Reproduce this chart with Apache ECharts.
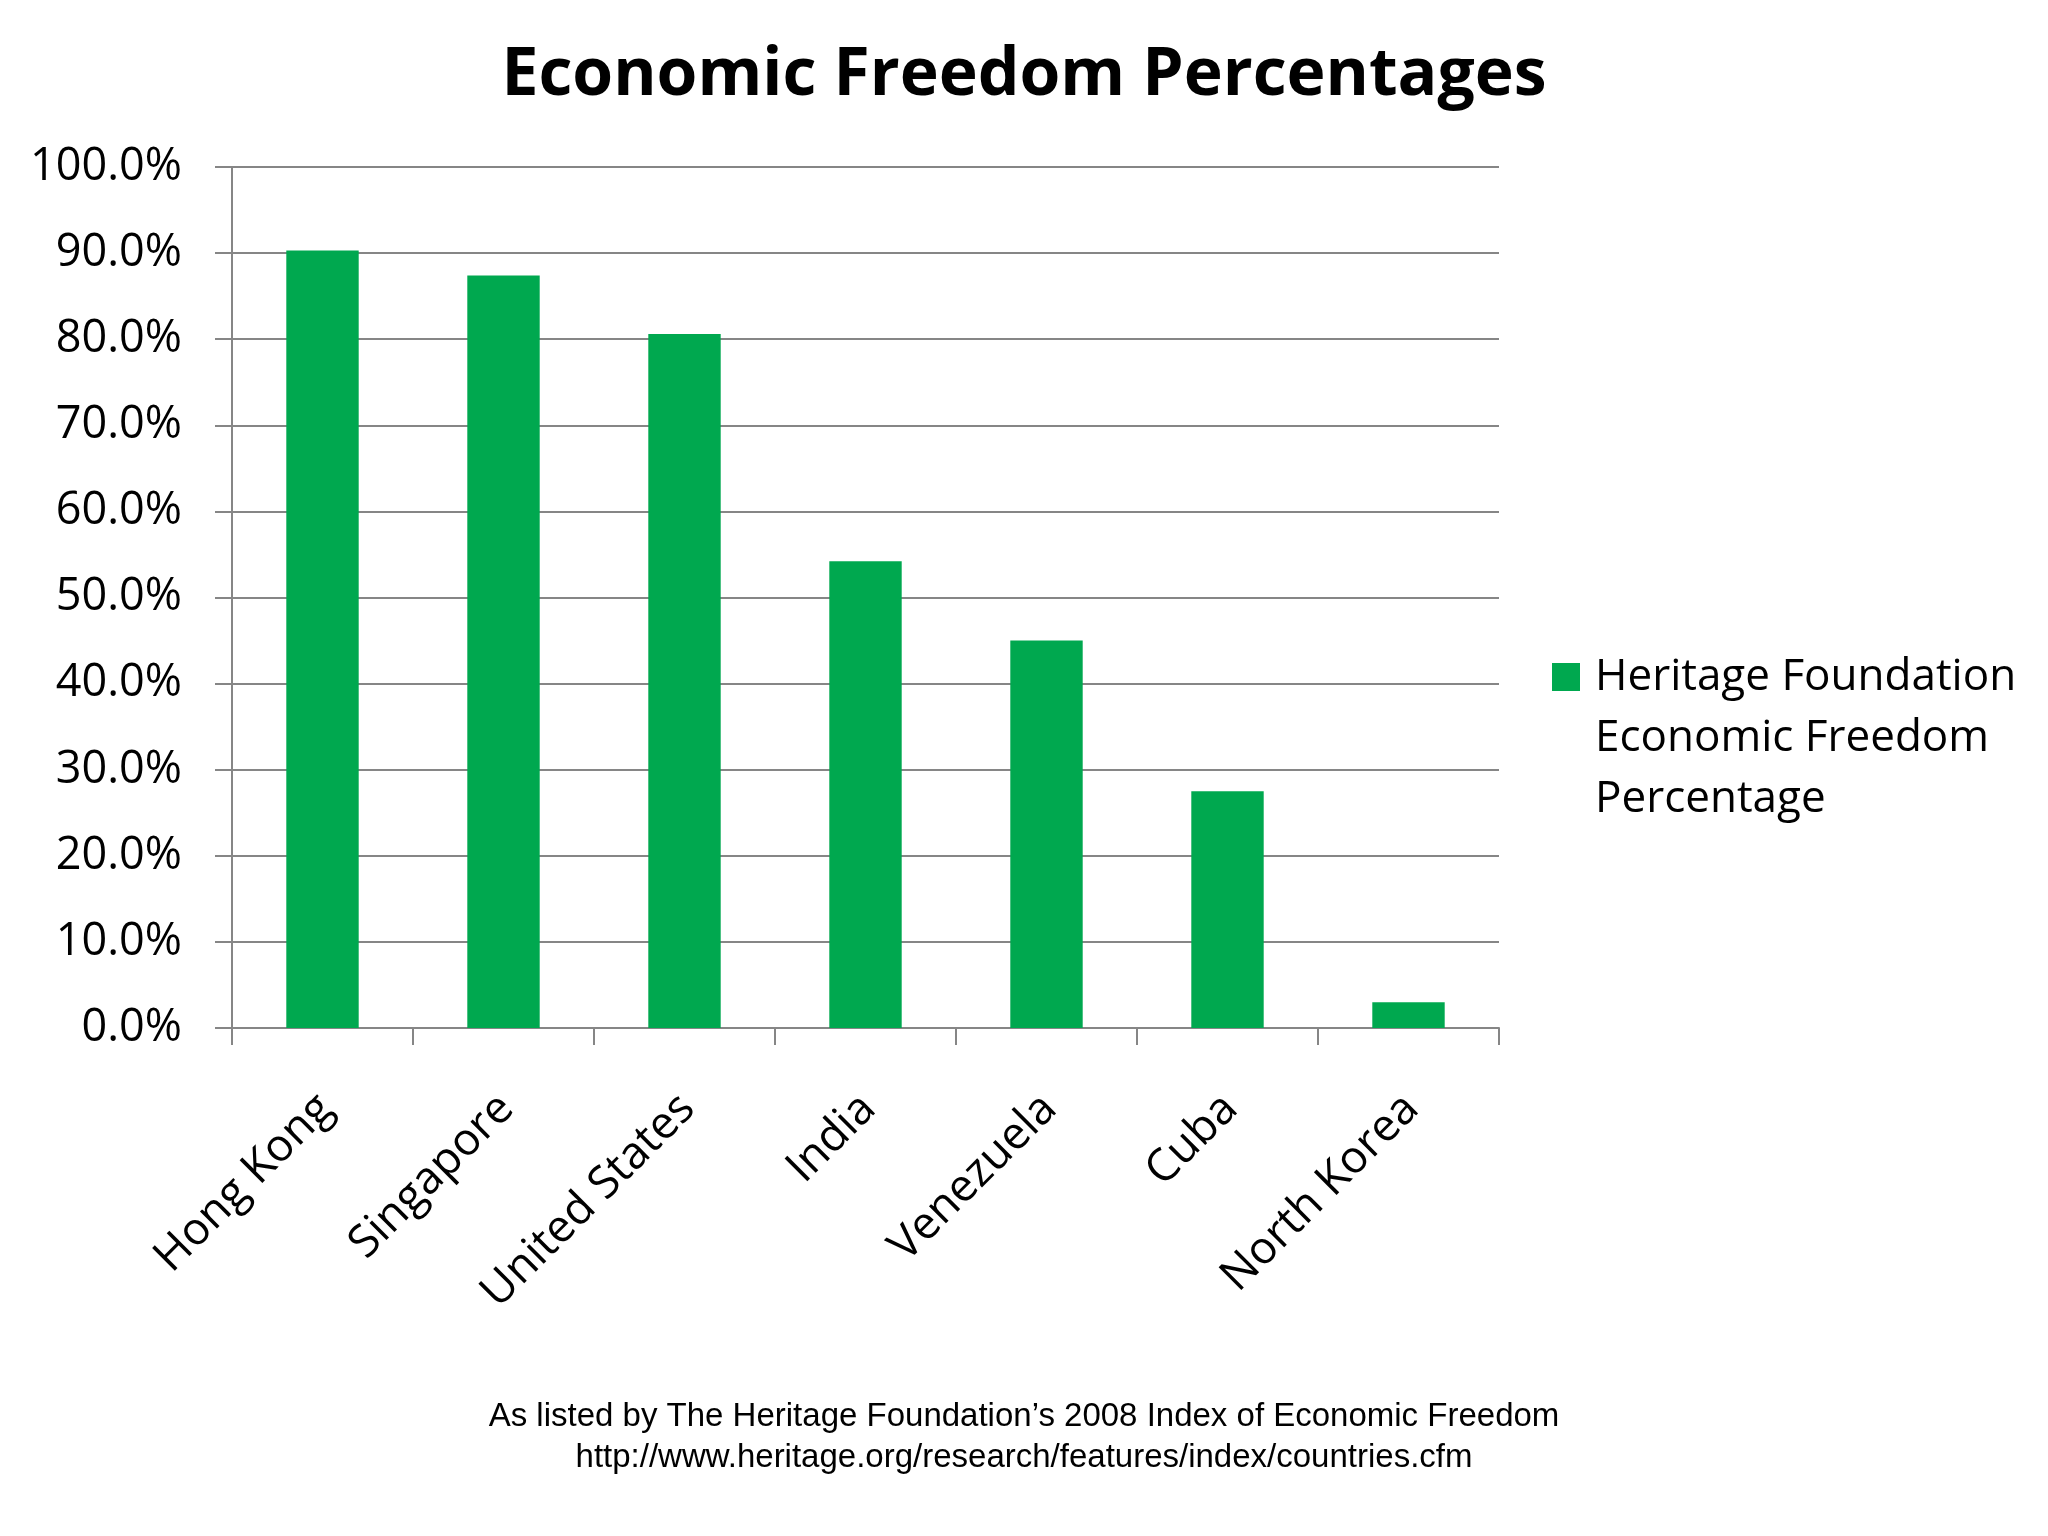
<!DOCTYPE html>
<html>
<head>
<meta charset="utf-8">
<title>Economic Freedom Percentages</title>
<script src="https://cdn.jsdelivr.net/npm/echarts@6/dist/echarts.min.js"></script>
<style>
  html, body { margin: 0; padding: 0; background: #fff; }
  #chart { width: 2048px; height: 1536px; }
</style>
</head>
<body>
<div id="chart"></div>
<script>
// Data
const countries = ['Hong Kong', 'Singapore', 'United States', 'India', 'Venezuela', 'Cuba', 'North Korea'];
const freedomPct = [90.3, 87.4, 80.6, 54.2, 45.0, 27.5, 3.0];
const seriesName = 'Heritage Foundation Economic Freedom Percentage';
const legendLines = ['Heritage Foundation', 'Economic Freedom', 'Percentage'];
const footerLines = [
    'As listed by The Heritage Foundation\u2019s 2008 Index of Economic Freedom',
    'http://www.heritage.org/research/features/index/countries.cfm'
];

const FONT = '"Open Sans", "Liberation Sans", sans-serif';
const GRID_COLOR = '#868686';
const BAR_COLOR = '#00a84f';
const LEGEND_LINE = 61;
const LEGEND_ICON_CENTER = 677;

const chart = echarts.init(document.getElementById('chart'), null, {renderer: 'canvas'});

// legend icon sits in the middle of the text block, so two blank lines
// on top put it level with the first line
const legendText = ['{t| }', '{t| }'].concat(legendLines.map(l => '{t|' + l + '}')).join('\n');

chart.setOption({
    backgroundColor: '#ffffff',
    animation: false,
    title: {
        text: 'Economic Freedom Percentages',
        left: 'center',
        top: 38,
        textStyle: {
            fontFamily: FONT,
            fontWeight: 'bold',
            fontSize: 66,
            color: '#000'
        }
    },
    grid: {
        left: 232,
        right: 549,
        top: 167,
        bottom: 508,
        containLabel: false
    },
    legend: {
        left: 1552,
        top: LEGEND_ICON_CENTER - 2.5 * LEGEND_LINE,
        padding: 0,
        itemWidth: 28,
        itemHeight: 28,
        icon: 'rect',
        formatter: () => legendText,
        textStyle: {
            fontFamily: FONT,
            fontSize: 44,
            lineHeight: LEGEND_LINE,
            color: '#000',
            rich: {
                t: {
                    fontFamily: FONT,
                    fontSize: 44,
                    lineHeight: LEGEND_LINE,
                    color: '#000',
                    padding: [0, 0, 0, 10]
                }
            }
        },
        data: [seriesName]
    },
    xAxis: {
        type: 'category',
        data: countries,
        boundaryGap: true,
        axisLine: {show: true, lineStyle: {color: GRID_COLOR, width: 2}},
        axisTick: {show: true, alignWithLabel: false, length: 17, lineStyle: {color: GRID_COLOR, width: 2}},
        axisLabel: {
            rotate: 45,
            margin: 45,
            align: 'right',
            verticalAlign: 'top',
            padding: [0, 18, 0, 0],
            interval: 0,
            fontFamily: FONT,
            fontSize: 45,
            color: '#000'
        }
    },
    yAxis: {
        type: 'value',
        min: 0,
        max: 100,
        interval: 10,
        axisLine: {show: true, lineStyle: {color: GRID_COLOR, width: 2}},
        axisTick: {show: true, inside: false, length: 17, lineStyle: {color: GRID_COLOR, width: 2}},
        splitLine: {show: true, lineStyle: {color: GRID_COLOR, width: 2}},
        axisLabel: {
            margin: 50,
            fontFamily: FONT,
            fontSize: 45,
            color: '#000',
            formatter: v => v.toFixed(1) + '%'
        }
    },
    series: [{
        name: seriesName,
        type: 'bar',
        data: freedomPct,
        barWidth: '40%',
        itemStyle: {color: BAR_COLOR}
    }],
    graphic: footerLines.map((line, i) => ({
        type: 'text',
        left: 'center',
        top: 1400 + i * 41,
        style: {
            text: line,
            fontFamily: '"Liberation Sans", sans-serif',
            fontSize: 33,
            fill: '#000'
        }
    }))
});
</script>
</body>
</html>
